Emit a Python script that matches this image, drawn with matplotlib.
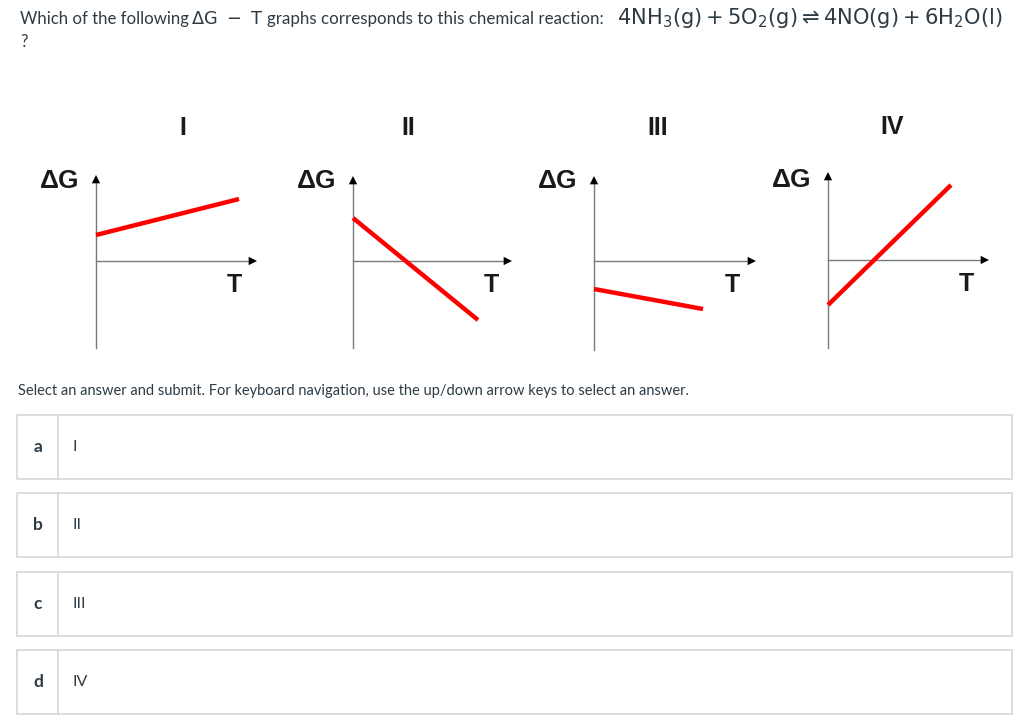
import matplotlib
matplotlib.use('Agg')
import matplotlib.pyplot as plt
from matplotlib.patches import Rectangle

# ---------------- data ----------------
panel_labels = ['I', 'II', 'III', 'IV']
T_start = [0.0, 0.0, 0.0, 0.0]
T_end = [1.43, 1.25, 1.09, 1.23]
dG_start = [0.26, 0.43, -0.28, -0.45]
dG_end = [0.62, -0.59, -0.48, 0.75]
option_letters = ['a', 'b', 'c', 'd']
option_texts = ['I', 'II', 'III', 'IV']

q_part1 = "Which of the following"
q_math = r"$\Delta\mathrm{G}\ -\ \mathrm{T}$"
q_part2 = "graphs corresponds to this chemical reaction:"
formula = r"$4\mathrm{NH_3(g)}+5\mathrm{O_2(g)}\rightleftharpoons 4\mathrm{NO(g)}+6\mathrm{H_2O(l)}$"
instruction = ("Select an answer and submit. For keyboard navigation, use the up/down "
               "arrow keys to select an answer.")

# ---------------- layout ----------------
W, H = 1024, 722
plt.rcParams['mathtext.fontset'] = 'dejavusans'
fig = plt.figure(figsize=(W / 100, H / 100), dpi=100)
fig.patch.set_facecolor('white')
bg = fig.add_axes([0, 0, 1, 1])
bg.set_xlim(0, W)
bg.set_ylim(H, 0)
bg.axis('off')

TXT = '#2d3b45'
BORDER = '#d3d8dd'


def fit(t, target):
    r = fig.canvas.get_renderer()
    w = t.get_window_extent(r).width
    t.set_fontsize(t.get_fontsize() * target / w)


BASE = 24
t1 = bg.text(20, BASE, q_part1, fontsize=11.5, family='Lato', color=TXT,
             va='baseline', ha='left')
fit(t1, 168)
t2 = bg.text(191, BASE, q_math, fontsize=13, color=TXT, va='baseline', ha='left')
fit(t2, 72)
t3 = bg.text(267, BASE, q_part2, fontsize=11.5, family='Lato', color=TXT,
             va='baseline', ha='left')
fit(t3, 336)
f = bg.text(617, BASE, formula, fontsize=14, color=TXT, va='baseline', ha='left')
fit(f, 388)
bg.text(20, 47, '?', fontsize=t1.get_fontsize(), family='Lato', color=TXT,
        va='baseline', ha='left')

ins = bg.text(18, 391, instruction, fontsize=10.5, family='Lato', color=TXT,
              va='center', ha='left')
fit(ins, 675)

box_tops = [415, 493, 572, 650]
box_h = 64
for top, let, lab in zip(box_tops, option_letters, option_texts):
    bg.add_patch(Rectangle((17, top), 995, box_h, facecolor='white',
                           edgecolor=BORDER, lw=1.2))
    bg.plot([58, 58], [top, top + box_h], color=BORDER, lw=1.2)
    bg.text(38, top + box_h / 2, let, fontsize=12.5, family='Lato',
            fontweight='bold', color=TXT, ha='center', va='center')
    bg.text(72, top + box_h / 2, lab, fontsize=11.5, family='Lato',
            color=TXT, ha='left', va='center')

# panel axes geometry (pixel origin of each little graph)
ox = [96, 353, 594, 828]
oy = [261, 261, 261, 260]
y_top = [0.86, 0.85, 0.85, 0.88]
y_bot = [-0.87, -0.87, -0.89, -0.88]
x_end = [1.61, 1.59, 1.62, 1.61]
title_x = [0.87, 0.55, 0.64, 0.64]
scale = 100.0
x0, x1, y0, y1 = -0.1, 1.75, -0.95, 0.95
AX = '#7a7a7a'
arrow_style = '-|>,head_length=0.6,head_width=0.3'

for i in range(4):
    left = (ox[i] + x0 * scale) / W
    bottom = 1 - (oy[i] - y0 * scale) / H
    ax = fig.add_axes([left, bottom, (x1 - x0) * scale / W, (y1 - y0) * scale / H])
    ax.set_xlim(x0, x1)
    ax.set_ylim(y0, y1)
    ax.axis('off')
    # axes
    ax.plot([0, 0], [y_bot[i], y_top[i] - 0.05], color=AX, lw=1)
    ax.plot([0, x_end[i] - 0.05], [0, 0], color=AX, lw=1)
    ax.annotate('', xy=(0, y_top[i]), xytext=(0, y_top[i] - 0.02),
                arrowprops=dict(arrowstyle=arrow_style, color='black', lw=0,
                                mutation_scale=10, shrinkA=0, shrinkB=0))
    ax.annotate('', xy=(x_end[i], 0), xytext=(x_end[i] - 0.02, 0),
                arrowprops=dict(arrowstyle=arrow_style, color='black', lw=0,
                                mutation_scale=10, shrinkA=0, shrinkB=0))
    # data line
    ax.plot([T_start[i], T_end[i]], [dG_start[i], dG_end[i]], color='#ff0000',
            lw=3.2, solid_capstyle='butt', clip_on=False)
    # labels
    ax.text(-0.17, 0.80, 'ΔG', family='Liberation Sans', fontweight='bold',
            fontsize=19, ha='right', va='center', color='#1a1a1a')
    ax.text(1.38, -0.24, 'T', family='Liberation Sans', fontweight='bold',
            fontsize=18, ha='center', va='center', color='#1a1a1a')
    ax.text(title_x[i], 1.33, panel_labels[i], family='Liberation Sans',
            fontweight='bold', fontsize=18, ha='center', va='center',
            color='#1a1a1a', clip_on=False)

fig.savefig('out.png', dpi=100, facecolor='white')
